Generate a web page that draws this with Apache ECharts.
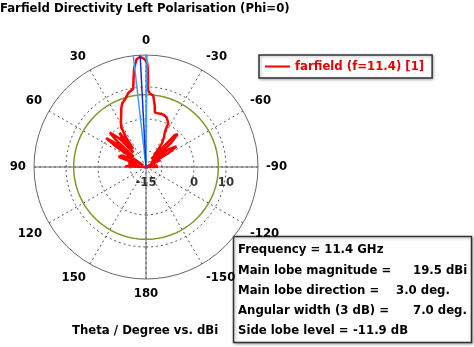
<!DOCTYPE html>
<html>
<head>
<meta charset="utf-8">
<script src="https://cdn.jsdelivr.net/npm/echarts@6/dist/echarts.min.js"></script>
<style>
  html, body { margin: 0; padding: 0; background: #fff; }
  #chart { width: 474px; height: 347px; }
</style>
</head>
<body>
<div id="chart"></div>
<script>
// theta (deg) and directivity (dBi); values at the centre sit at the -15 floor
const theta = [-180, -120, -95, -90, -88, -85, -82, -79, -76, -73, -70, -67, -64, -61, -58, -56, -54, -52, -49, -46, -44, -42, -40, -37, -34, -31, -29, -28, -27, -25, -22.4, -19, -16, -12, -9.2, -8, -5.8, -3, -1.5, -1.3, -1, -0.5, 1, 2, 3, 4, 5, 6.9, 8, 9.3, 10.5, 13.5, 17, 20.6, 23, 25.7, 29, 32, 34, 35.5, 37.7, 39.5, 41, 43, 46.4, 48, 50, 52, 53.9, 56, 59, 62, 65, 69.6, 72, 75, 78, 81, 84, 88, 92, 120, 180]
const dbi = [-15, -15, -15, -12.5, -11.2, -13.5, -11.5, -14, -12, -15, -12.5, -14.5, -10, -14, -7, -3.5, -3, -6, -13, -4, -0.8, -1.5, -8, -12, -6, -4, -3, -2.1, 0.2, 1.0, 1.8, 2.2, 2.3, 2.2, 2.3, 4.5, 7.4, 8.0, 9.0, 12.9, 16, 17.8, 18.8, 19.3, 19.5, 19.3, 18.8, 16, 12.9, 9.8, 9.4, 8.8, 7.2, 6.2, 4.8, 2.9, 1.2, -0.4, -4, -8, -1.5, -3, -9, -3, 0.6, -2, -10, -3, 0.4, -4, -14, -9, -6.5, -5.9, -12, -10, -9.4, -13, -11, -8.5, -15, -15, -15]

const radiusTicks = [-15, 0, 10]
const dottedRings = [-10, 0, 10]
const sideLobeLevel = 7.6
const mainLobeDir = 3.0
const widthEdges = [-0.5, 6.5]
const rMin = -15
const rMax = 20

const infoLabels = ['Frequency = 11.4 GHz', 'Main lobe magnitude =', 'Main lobe direction =', 'Angular width (3 dB) =', 'Side lobe level =']
const infoValues = ['', '19.5 dBi', '3.0 deg.', '7.0 deg.', '-11.9 dB']

const FONT = '"DejaVu Sans Condensed", "DejaVu Sans", sans-serif'

function ring (r) {
    const pts = []
    for (let a = -180; a <= 180; a += 2) pts.push([r, a])
    return pts
}
function spoke (a) {
    return [[rMin, a], [rMax, a]]
}

const series = []
dottedRings.forEach(r => {
    series.push({
        type: 'line', coordinateSystem: 'polar', symbol: 'none', silent: true,
        lineStyle: { color: '#555', width: 1, type: [2, 3] },
        data: ring(r)
    })
})
// solid cross through the centre
;[90, -90, 0, 180].forEach(a => {
    series.push({
        type: 'line', coordinateSystem: 'polar', symbol: 'none', silent: true, z: 3,
        lineStyle: { color: '#666', width: 1, type: 'solid' },
        data: spoke(a)
    })
})
series.push({
    type: 'line', coordinateSystem: 'polar', symbol: 'none', silent: true, z: 3,
    lineStyle: { color: '#7d9a2c', width: 1.5 },
    data: ring(sideLobeLevel)
})
series.push({
    name: 'farfield (f=11.4) [1]',
    type: 'line', coordinateSystem: 'polar', symbol: 'none', z: 4,
    lineStyle: { color: '#ff0000', width: 2.5 },
    itemStyle: { color: '#ff0000' },
    data: theta.map((t, i) => [dbi[i], t])
})
widthEdges.forEach(a => {
    series.push({
        type: 'line', coordinateSystem: 'polar', symbol: 'none', silent: true, z: 5,
        lineStyle: { color: '#3d9bff', width: 1.5 },
        data: spoke(a)
    })
})
series.push({
    type: 'line', coordinateSystem: 'polar', symbol: 'none', silent: true, z: 5,
    lineStyle: { color: '#1a2fd0', width: 1.5 },
    data: spoke(mainLobeDir)
})
series.push({
    type: 'scatter', coordinateSystem: 'polar', symbolSize: 0, silent: true, z: 6,
    label: {
        show: true, position: 'bottom', distance: 9,
        formatter: p => String(p.value[0]),
        color: '#000', fontWeight: 'bold', fontSize: 13, fontFamily: FONT
    },
    data: radiusTicks.map(v => [v, -90])
})

const graphic = [
    {
        type: 'text', left: 72, top: 324,
        style: { text: 'Theta / Degree vs. dBi', fontSize: 13, fontWeight: 'bold', fontFamily: FONT, fill: '#000' }
    },
    {
        type: 'rect', shape: { x: 233.5, y: 236.5, width: 238, height: 106 },
        style: { fill: '#fff', stroke: '#333', lineWidth: 1.5, shadowBlur: 3, shadowColor: 'rgba(0,0,0,0.35)', shadowOffsetX: 1, shadowOffsetY: 1 }
    }
]
const lineY = [250, 270.5, 291, 311, 330.5]
const valueX = [0, 413, 396, 413, 353]
infoLabels.forEach((t, i) => {
    graphic.push({
        type: 'text', x: 238, y: lineY[i],
        style: { text: t, fontSize: 13, fontWeight: 'bold', fontFamily: FONT, fill: '#000', verticalAlign: 'middle' }
    })
    if (infoValues[i]) {
        graphic.push({
            type: 'text', x: valueX[i], y: lineY[i],
            style: { text: infoValues[i], fontSize: 13, fontWeight: 'bold', fontFamily: FONT, fill: '#000', verticalAlign: 'middle' }
        })
    }
})

const chart = echarts.init(document.getElementById('chart'))
chart.setOption({
    animation: false,
    title: {
        text: 'Farfield Directivity Left Polarisation (Phi=0)',
        left: 0, top: 2, padding: 0,
        textStyle: { fontSize: 13, fontWeight: 'bold', fontFamily: FONT, color: '#000' }
    },
    legend: {
        data: ['farfield (f=11.4) [1]'],
        left: 259, top: 55,
        selectedMode: false,
        icon: 'rect', itemWidth: 25, itemHeight: 2, itemGap: 4,
        padding: [5, 8, 5, 6],
        borderColor: '#333', borderWidth: 1.5,
        backgroundColor: '#fff',
        shadowBlur: 3, shadowColor: 'rgba(0,0,0,0.3)', shadowOffsetX: 1, shadowOffsetY: 1,
        textStyle: { color: '#e00000', fontSize: 13, fontWeight: 'bold', fontFamily: FONT }
    },
    polar: { center: [146, 167], radius: 112 },
    angleAxis: {
        type: 'value', min: -180, max: 180, interval: 30,
        startAngle: 270, clockwise: false,
        axisLine: { lineStyle: { color: '#666', width: 1 } },
        axisTick: { show: false },
        axisLabel: {
            margin: 8, color: '#000', fontWeight: 'bold', fontSize: 13, fontFamily: FONT,
            formatter: v => (v === 180 ? '' : v === -180 ? '180' : String(v))
        },
        splitLine: { show: true, lineStyle: { color: '#555', width: 1, type: [2, 3] } }
    },
    radiusAxis: {
        min: rMin, max: rMax,
        axisLine: { show: false }, axisTick: { show: false },
        axisLabel: { show: false }, splitLine: { show: false }
    },
    series,
    graphic
})
</script>
</body>
</html>
